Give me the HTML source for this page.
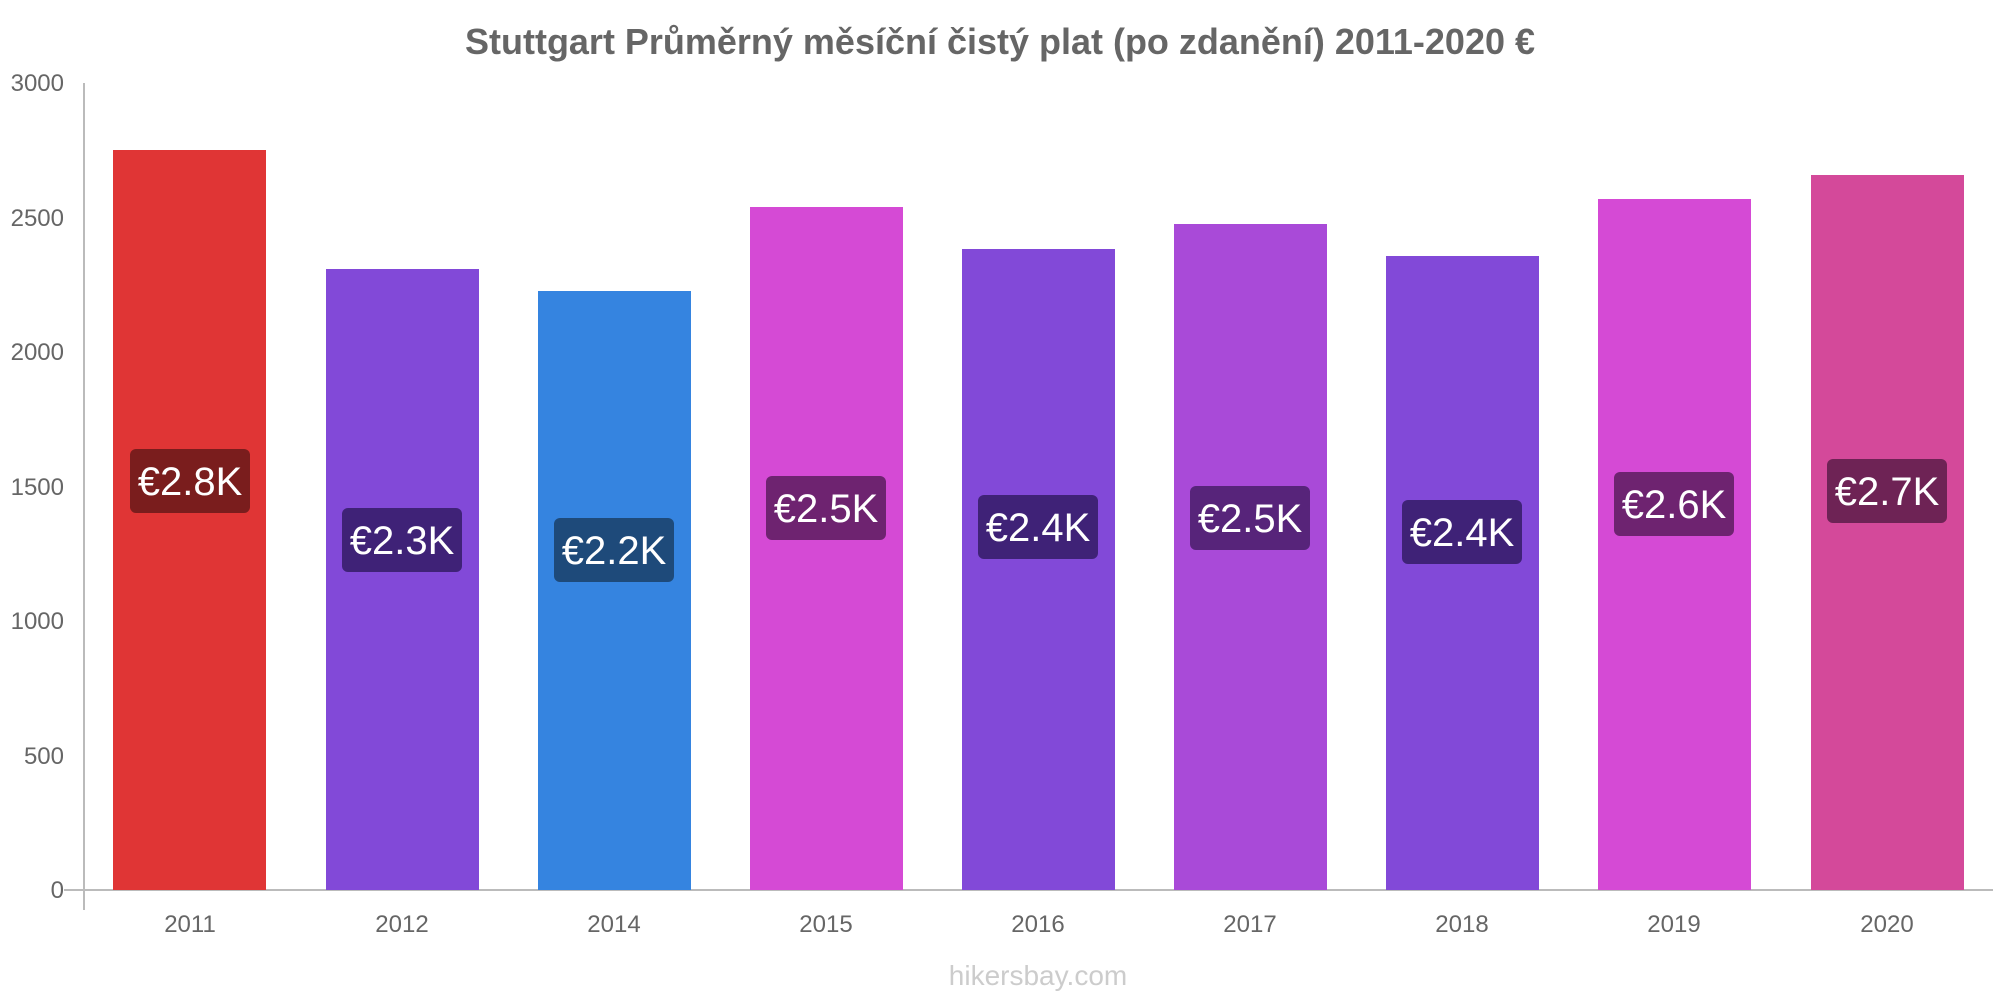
<!DOCTYPE html>
<html><head><meta charset="utf-8"><style>html,body{margin:0;padding:0;background:#fff}svg{display:block}</style></head>
<body>
<svg width="2000" height="1000" viewBox="0 0 2000 1000" xmlns="http://www.w3.org/2000/svg" font-family="Liberation Sans, sans-serif">
<text x="1000" y="54" text-anchor="middle" font-size="36" font-weight="bold" fill="#666" textLength="1070" lengthAdjust="spacingAndGlyphs">Stuttgart Průměrný měsíční čistý plat (po zdanění) 2011-2020 €</text>
<g font-size="24" fill="#666" text-anchor="end">
<text x="64" y="91">3000</text>
<text x="64" y="226">2500</text>
<text x="64" y="360">2000</text>
<text x="64" y="495">1500</text>
<text x="64" y="629">1000</text>
<text x="64" y="764">500</text>
<text x="64" y="898">0</text>
</g>
<g stroke="#bbb" stroke-width="2">
<line x1="84" y1="83" x2="84" y2="910"/>
<line x1="64" y1="890" x2="1993" y2="890"/>
</g>
<g id="bars">
<rect x="113" y="150" width="153" height="740" fill="#e03535"/>
<rect x="326" y="269" width="153" height="621" fill="#8249d8"/>
<rect x="538" y="291" width="153" height="599" fill="#3584e0"/>
<rect x="750" y="207" width="153" height="683" fill="#d54ad5"/>
<rect x="962" y="249" width="153" height="641" fill="#8249d8"/>
<rect x="1174" y="224" width="153" height="666" fill="#a94ad8"/>
<rect x="1386" y="256" width="153" height="634" fill="#8249d8"/>
<rect x="1598" y="199" width="153" height="691" fill="#d54ad5"/>
<rect x="1811" y="175" width="153" height="715" fill="#d4499a"/>
</g>
<g>
<rect x="130" y="449" width="120" height="64" rx="6" fill="#7a1d1d"/>
<rect x="342" y="508" width="120" height="64" rx="6" fill="#3f2277"/>
<rect x="554" y="518" width="120" height="64" rx="6" fill="#1e4a7a"/>
<rect x="766" y="476" width="120" height="64" rx="6" fill="#6e2370"/>
<rect x="978" y="495" width="120" height="64" rx="6" fill="#3f2277"/>
<rect x="1190" y="486" width="120" height="64" rx="6" fill="#57247a"/>
<rect x="1402" y="500" width="120" height="64" rx="6" fill="#3f2277"/>
<rect x="1614" y="472" width="120" height="64" rx="6" fill="#6e2370"/>
<rect x="1827" y="459" width="120" height="64" rx="6" fill="#6e2355"/>
</g>
<g font-size="40" fill="#fff" text-anchor="middle">
<text x="190" y="495">€2.8K</text>
<text x="402" y="554">€2.3K</text>
<text x="614" y="564">€2.2K</text>
<text x="826" y="522">€2.5K</text>
<text x="1038" y="541">€2.4K</text>
<text x="1250" y="532">€2.5K</text>
<text x="1462" y="546">€2.4K</text>
<text x="1674" y="518">€2.6K</text>
<text x="1887" y="505">€2.7K</text>
</g>
<g font-size="24" fill="#666" text-anchor="middle">
<text x="190" y="932">2011</text>
<text x="402" y="932">2012</text>
<text x="614" y="932">2014</text>
<text x="826" y="932">2015</text>
<text x="1038" y="932">2016</text>
<text x="1250" y="932">2017</text>
<text x="1462" y="932">2018</text>
<text x="1674" y="932">2019</text>
<text x="1887" y="932">2020</text>
</g>
<text x="1038" y="985" text-anchor="middle" font-size="28" fill="#ccc">hikersbay.com</text>
</svg>
</body></html>
